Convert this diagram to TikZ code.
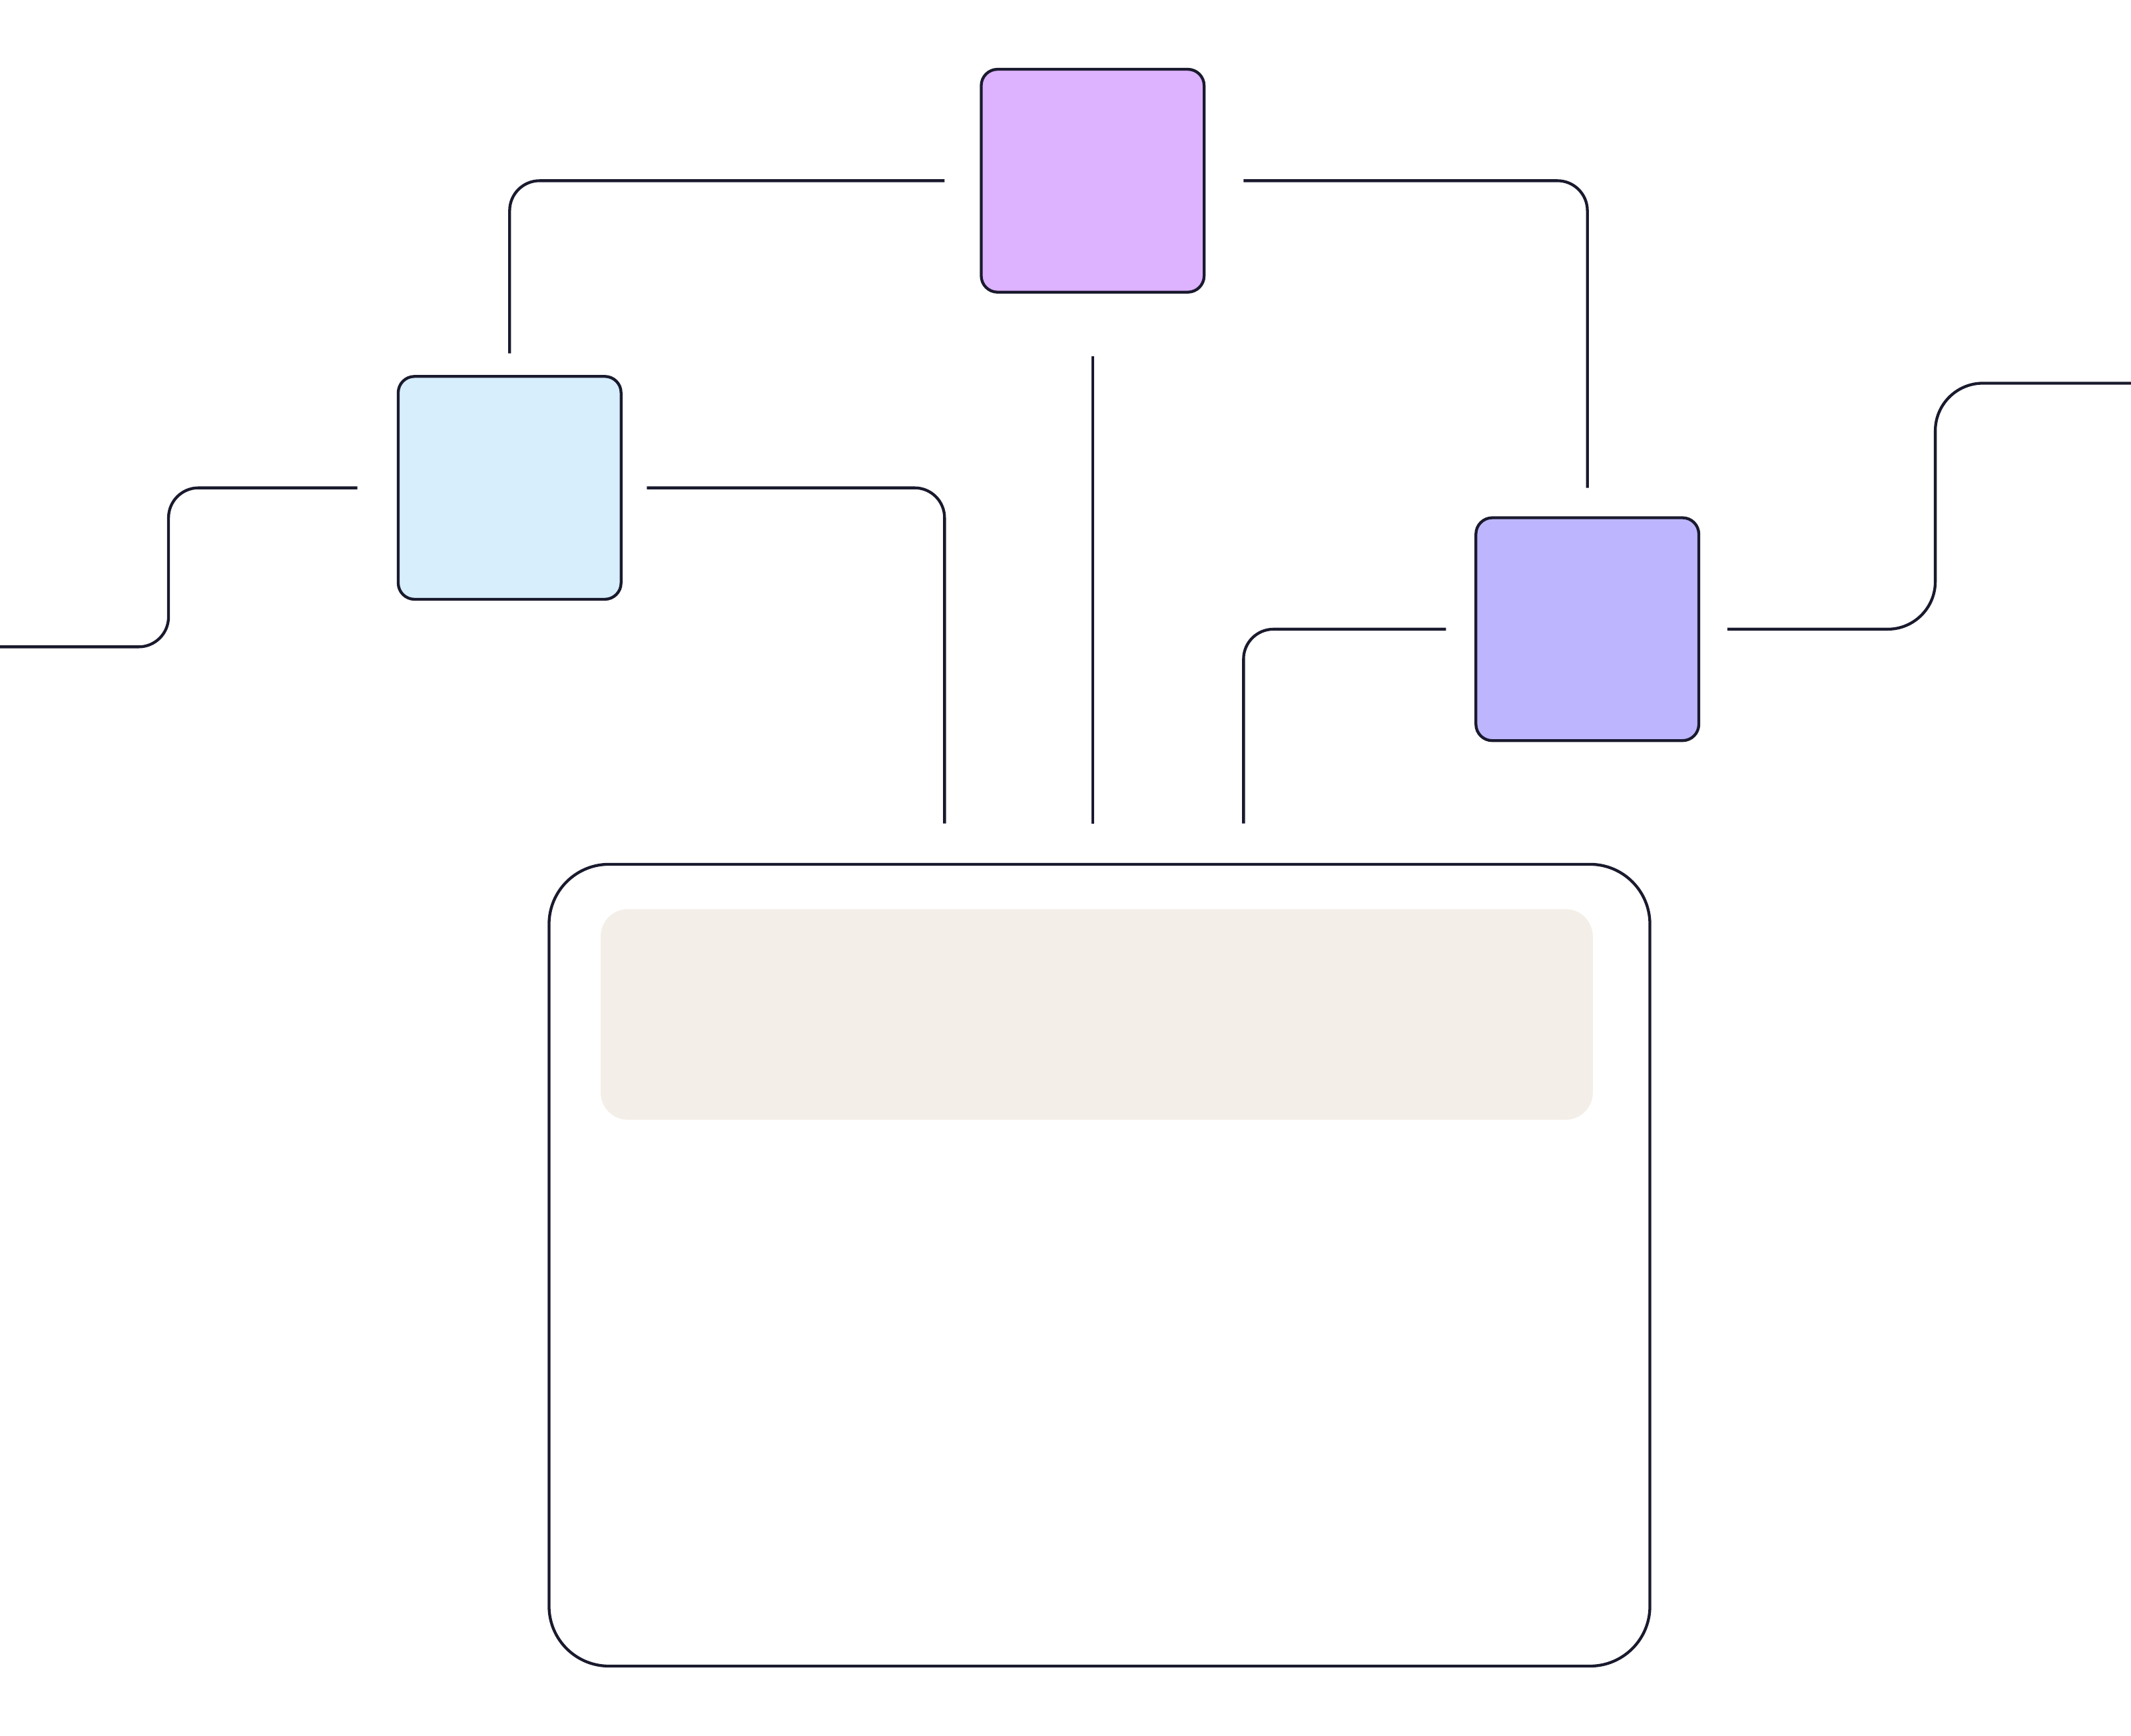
\documentclass[tikz,border=0pt]{standalone}
\definecolor{cPurple}{HTML}{DDB2FF}
\definecolor{cBlue}{HTML}{D7EEFD}
\definecolor{cLav}{HTML}{BDB6FF}
\definecolor{cBeige}{HTML}{F3EFE8}
\definecolor{cLine}{HTML}{1A1A2E}
\begin{document}
\begin{tikzpicture}[x=0.01cm,y=-0.01cm,
  sq/.style={draw=cLine,line width=0.6pt,rounded corners=0.12cm},
  wire/.style={draw=cLine,line width=0.6pt,rounded corners=0.22cm}]
\useasboundingbox (0,0) rectangle (1568,1277);
\path[sq,fill=cPurple] (722,51) rectangle (886,215);
\path[sq,fill=cBlue] (293,277) rectangle (457,441);
\path[sq,fill=cLav] (1086,381) rectangle (1250,545);
\path[draw=cLine,line width=0.6pt,rounded corners=0.44cm] (404,636) rectangle (1214,1226);
\path[fill=cBeige,rounded corners=0.2cm] (442,669) rectangle (1172,824);
\path[wire] (695,133) -- (375,133) -- (375,260);
\path[wire] (915,133) -- (1168,133) -- (1168,359);
\path[wire] (263,359) -- (124,359) -- (124,476) -- (0,476);
\path[wire] (476,359) -- (695,359) -- (695,606);
\path[wire] (804,262) -- (804,606);
\path[wire] (1064,463) -- (915,463) -- (915,606);
\path[draw=cLine,line width=0.6pt,rounded corners=0.35cm] (1271,463) -- (1424,463) -- (1424,282) -- (1568,282);
\end{tikzpicture}
\end{document}
